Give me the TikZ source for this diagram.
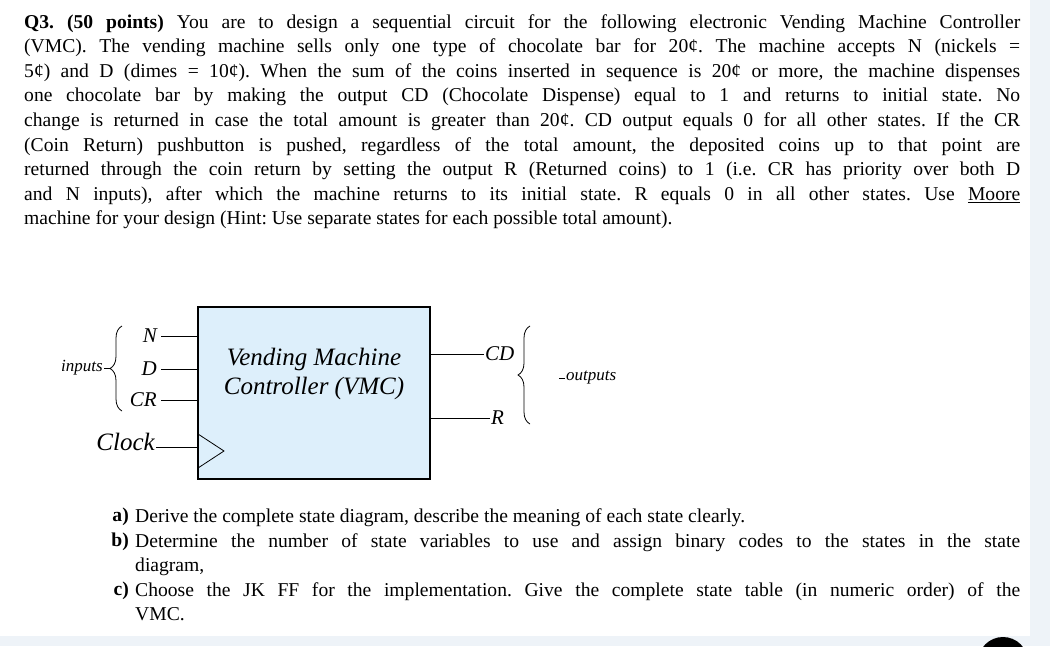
\documentclass[tikz,border=0pt]{standalone}
\usepackage{fontspec}
\setmainfont{Liberation Serif}
\usetikzlibrary{decorations.pathreplacing}
\definecolor{bgc}{HTML}{EEF3F8}
\definecolor{boxc}{HTML}{DDEFFB}
\tikzset{wire/.style={line width=0.9pt},
 lab/.style={font=\itshape\fontsize{21}{21}\selectfont, inner sep=1pt},
 brc/.style={decorate, decoration={brace, amplitude=12pt}, line width=0.8pt},
 para/.style={anchor=north west, inner sep=0pt, align=justify, font=\frenchspacing\fontsize{19.6}{24.6}\selectfont}}
\begin{document}
\begin{tikzpicture}[x=1pt,y=-1pt]
\fill[bgc] (0,0) rectangle (1050,646);
\fill[white] (0,0) rectangle (1030,636);
\useasboundingbox (0,0) rectangle (1050,646);
\begin{scope}
\clip (0,0) rectangle (1050,646);
\fill[black] (1003,662) circle (25);
\end{scope}
\node[para, text width=996pt] (txt) at (24,14) {\textbf{Q3. (50 points)} You are to design a sequential circuit for the following electronic Vending Machine Controller\linebreak
(VMC). The vending machine sells only one type of chocolate bar for 20¢. The machine accepts N (nickels =\linebreak
5¢) and D (dimes = 10¢). When the sum of the coins inserted in sequence is 20¢ or more, the machine dispenses\linebreak
one chocolate bar by making the output CD (Chocolate Dispense) equal to 1 and returns to initial state. No\linebreak
change is returned in case the total amount is greater than 20¢. CD output equals 0 for all other states. If the CR\linebreak
(Coin Return) pushbutton is pushed, regardless of the total amount, the deposited coins up to that point are\linebreak
returned through the coin return by setting the output R (Returned coins) to 1 (i.e. CR has priority over both D\linebreak
and N inputs), after which the machine returns to its initial state. R equals 0 in all other states. Use \underline{Moore}\linebreak
machine for your design (Hint: Use separate states for each possible total amount).\par};
% block
\node[draw, fill=boxc, line width=1.2pt, minimum width=232pt, minimum height=172pt, inner sep=0pt] (vmc) at (314,393) {};
\node[lab, font=\itshape\fontsize{25}{29}\selectfont, align=center] (title) at (314,374) {Vending Machine\\Controller (VMC)};
\coordinate (nin) at (198,336); \coordinate (din) at (198,369); \coordinate (crin) at (198,400); \coordinate (ckin) at (198,447);
\node[lab, anchor=east] (N) at (158,336) {N};
\node[lab, anchor=east] (D) at (158,369) {D};
\node[lab, anchor=east] (CR) at (158,400) {CR};
\node[lab, anchor=east, font=\itshape\fontsize{25}{25}\selectfont] (ck) at (156,442) {Clock};
\draw[wire] (N.east)++(3,0) -- (nin);
\draw[wire] (D.east)++(3,0) -- (din);
\draw[wire] (CR.east)++(3,0) -- (crin);
\draw[wire] (ck.east |- ckin) -- (ckin);
\coordinate (t1) at (198,434); \coordinate (t2) at (224,451); \coordinate (t3) at (198,468);
\draw[line width=0.8pt] (t1) -- (t2) -- (t3);
\coordinate (b1) at (122,411); \coordinate (b2) at (122,326);
\draw[brc] (b1) -- (b2);
\node[lab, anchor=east, font=\itshape\fontsize{17}{17}\selectfont] (inp) at (104,368) {inputs};
\draw[wire] (inp.east) -- +(6,0);
\coordinate (cdo) at (430,354); \coordinate (ro) at (430,418);
\node[lab, anchor=west] (CD) at (484,354) {CD};
\node[lab, anchor=west] (R) at (490,418) {R};
\draw[wire] (cdo) -- (CD.west);
\draw[wire] (ro) -- (R.west);
\coordinate (c1) at (530,326); \coordinate (c2) at (530,424);
\draw[brc] (c2) -- (c1);
\node[lab, anchor=west, font=\itshape\fontsize{17}{17}\selectfont] (outp) at (565,378) {outputs};
\draw[wire] (outp.west) -- +(-6,0);
% list
\node[para, text width=885pt] (la) at (135,508) {Derive the complete state diagram, describe the meaning of each state clearly.\par};
\node[para, anchor=north east] (ta) at (129,508) {\textbf{a)}};
\node[para, text width=885pt] (lb) at (135,533) {Determine the number of state variables to use and assign binary codes to the states in the state\linebreak diagram,\par};
\node[para, anchor=north east] (tb) at (129,533) {\textbf{b)}};
\node[para, text width=885pt] (lc) at (135,582) {Choose the JK FF for the implementation. Give the complete state table (in numeric order) of the\linebreak VMC.\par};
\node[para, anchor=north east] (tc) at (129,582) {\textbf{c)}};
\end{tikzpicture}
\end{document}
